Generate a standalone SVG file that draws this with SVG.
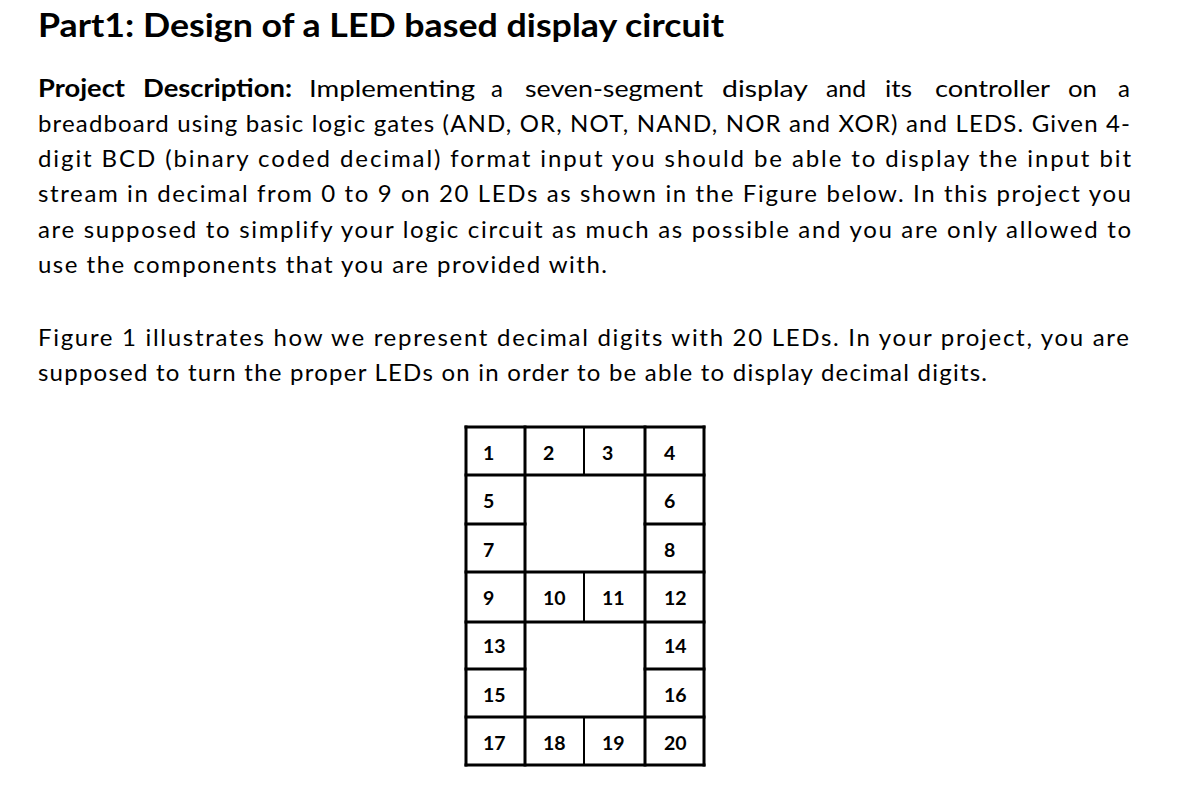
<svg xmlns="http://www.w3.org/2000/svg" width="1186" height="806" viewBox="0 0 1186 806">
<style>
.t{font-family:Lato,"Open Sans","Liberation Sans",sans-serif;fill:#000}
.title{font-size:33px;font-weight:700}
.body{font-size:24px}
.b{font-weight:700}
.num{font-family:Lato,"Open Sans","Liberation Sans",sans-serif;font-size:19.5px;font-weight:700;fill:#000}
.grid line{stroke:#000;stroke-width:3;stroke-linecap:square}
.grid line.thin{stroke-width:2}
</style>
<rect width="1186" height="806" fill="#fff"/>
<g id="title">
<text class="t title" x="38" y="37" textLength="686" lengthAdjust="spacingAndGlyphs">Part1: Design of a LED based display circuit</text>
</g>
<g id="description" class="t body">
<text x="38" y="97" class="b" textLength="87" lengthAdjust="spacingAndGlyphs">Project</text>
<text x="143" y="97" class="b" textLength="149" lengthAdjust="spacingAndGlyphs">Description:</text>
<text x="309" y="97" textLength="166" lengthAdjust="spacingAndGlyphs">Implementing</text>
<text x="491" y="97">a</text>
<text x="525" y="97" textLength="178" lengthAdjust="spacingAndGlyphs">seven-segment</text>
<text x="722" y="97" textLength="86" lengthAdjust="spacingAndGlyphs">display</text>
<text x="826" y="97" textLength="40" lengthAdjust="spacingAndGlyphs">and</text>
<text x="885" y="97" textLength="27" lengthAdjust="spacingAndGlyphs">its</text>
<text x="935" y="97" textLength="115" lengthAdjust="spacingAndGlyphs">controller</text>
<text x="1068" y="97" textLength="29" lengthAdjust="spacingAndGlyphs">on</text>
<text x="1118" y="97">a</text>
<text x="38" y="132" textLength="1092" lengthAdjust="spacing">breadboard using basic logic gates (AND, OR, NOT, NAND, NOR and XOR) and LEDS. Given 4-</text>
<text x="38" y="167" textLength="1093" lengthAdjust="spacing">digit BCD (binary coded decimal) format input you should be able to display the input bit</text>
<text x="38" y="202" textLength="1093" lengthAdjust="spacing">stream in decimal from 0 to 9 on 20 LEDs as shown in the Figure below. In this project you</text>
<text x="38" y="238" textLength="1093" lengthAdjust="spacing">are supposed to simplify your logic circuit as much as possible and you are only allowed to</text>
<text x="38" y="273" textLength="569" lengthAdjust="spacing">use the components that you are provided with.</text>
</g>
<g id="figure-text" class="t body">
<text x="38" y="346" textLength="1091" lengthAdjust="spacing">Figure 1 illustrates how we represent decimal digits with 20 LEDs. In your project, you are</text>
<text x="38" y="381" textLength="949" lengthAdjust="spacing">supposed to turn the proper LEDs on in order to be able to display decimal digits.</text>
</g>
<g id="led-grid" class="grid">
<line x1="466" y1="427" x2="704" y2="427"/>
<line x1="466" y1="765" x2="704" y2="765"/>
<line x1="466" y1="427" x2="466" y2="765"/>
<line x1="704" y1="427" x2="704" y2="765"/>
<line x1="525" y1="427" x2="525" y2="765"/>
<line x1="645" y1="427" x2="645" y2="765"/>
<line class="thin" x1="584" y1="427" x2="584" y2="475"/>
<line class="thin" x1="584" y1="572" x2="584" y2="622"/>
<line class="thin" x1="584" y1="717" x2="584" y2="765"/>
<line x1="466" y1="475" x2="704" y2="475"/>
<line x1="466" y1="524" x2="525" y2="524"/>
<line x1="645" y1="524" x2="704" y2="524"/>
<line x1="466" y1="572" x2="704" y2="572"/>
<line x1="466" y1="622" x2="704" y2="622"/>
<line x1="466" y1="669" x2="525" y2="669"/>
<line x1="645" y1="669" x2="704" y2="669"/>
<line x1="466" y1="717" x2="704" y2="717"/>
</g>
<g id="led-1"><text class="num" x="483" y="460">1</text></g>
<g id="led-2"><text class="num" x="543" y="460">2</text></g>
<g id="led-3"><text class="num" x="602" y="460">3</text></g>
<g id="led-4"><text class="num" x="664" y="460">4</text></g>
<g id="led-5"><text class="num" x="483" y="508">5</text></g>
<g id="led-6"><text class="num" x="664" y="508">6</text></g>
<g id="led-7"><text class="num" x="483" y="557">7</text></g>
<g id="led-8"><text class="num" x="664" y="557">8</text></g>
<g id="led-9"><text class="num" x="483" y="605">9</text></g>
<g id="led-10"><text class="num" x="543" y="605">10</text></g>
<g id="led-11"><text class="num" x="602" y="605">11</text></g>
<g id="led-12"><text class="num" x="664" y="605">12</text></g>
<g id="led-13"><text class="num" x="483" y="653">13</text></g>
<g id="led-14"><text class="num" x="664" y="653">14</text></g>
<g id="led-15"><text class="num" x="483" y="702">15</text></g>
<g id="led-16"><text class="num" x="664" y="702">16</text></g>
<g id="led-17"><text class="num" x="483" y="750">17</text></g>
<g id="led-18"><text class="num" x="543" y="750">18</text></g>
<g id="led-19"><text class="num" x="602" y="750">19</text></g>
<g id="led-20"><text class="num" x="664" y="750">20</text></g>
</svg>
